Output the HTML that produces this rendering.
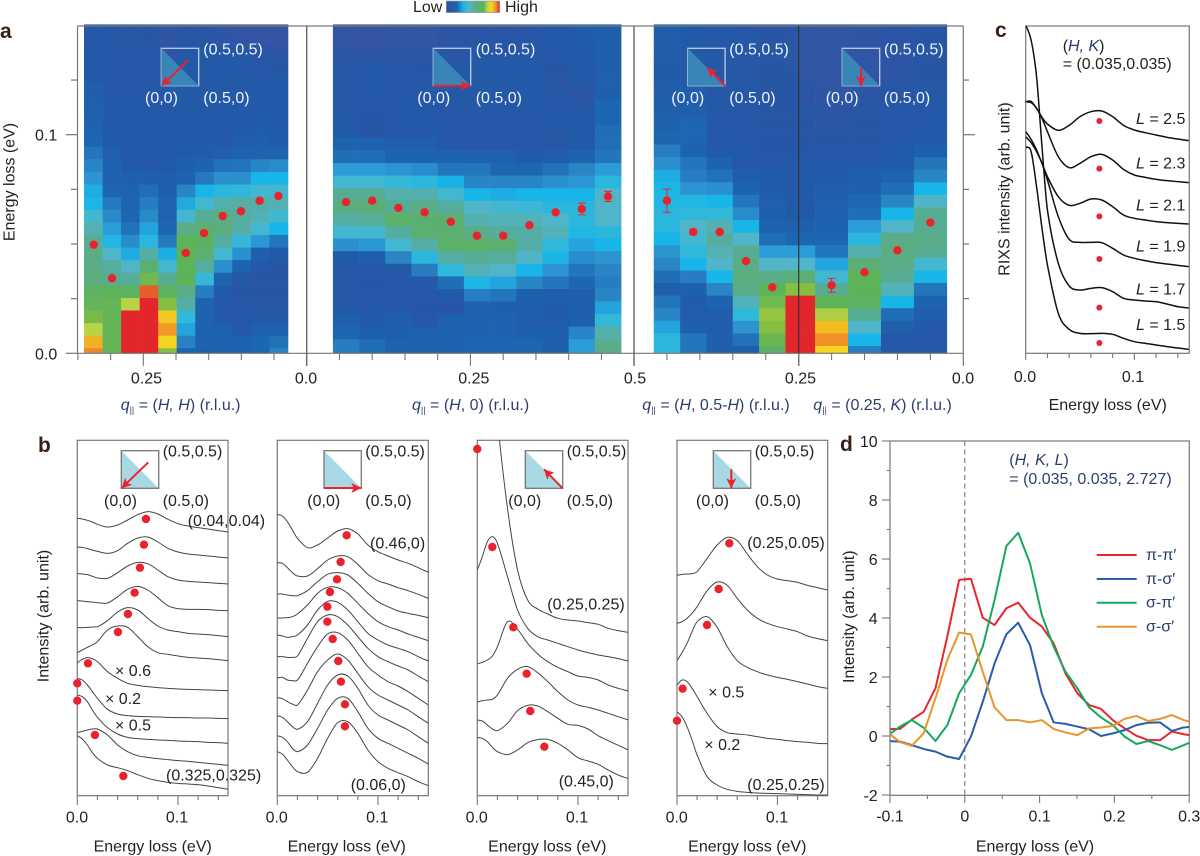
<!DOCTYPE html>
<html lang="en">
<head>
<meta charset="utf-8">
<title>RIXS energy-loss figure</title>
<style>
html,body{margin:0;padding:0;background:#fff;}
svg{display:block;}
text{font-family:"Liberation Sans",sans-serif;font-size:16px;fill:#222;}
.lab{font-weight:bold;font-size:21px;fill:#3a1f16;}
.w{fill:#eef2fa;}
.b{fill:#2b3f6e;}
.ax{stroke:#777;stroke-width:1.2;fill:none;}
</style>
</head>
<body>
<svg xmlns="http://www.w3.org/2000/svg" width="1200" height="856" viewBox="0 0 1200 856">
<defs>
<marker id="ah" markerUnits="userSpaceOnUse" markerWidth="12" markerHeight="12" refX="10" refY="5" orient="auto"><path d="M0,0L10,5L0,10L2.5,5Z" fill="#e8232e"/></marker>
<linearGradient id="cbar" x1="0" x2="1" y1="0" y2="0">
<stop offset="0" stop-color="#2a4f9e"/><stop offset=".2" stop-color="#1d66b1"/><stop offset=".32" stop-color="#17b5e8"/><stop offset=".42" stop-color="#50b5c8"/><stop offset=".55" stop-color="#5bad80"/><stop offset=".7" stop-color="#5cb358"/><stop offset=".78" stop-color="#c5d848"/><stop offset=".85" stop-color="#f3d420"/><stop offset=".92" stop-color="#f09a28"/><stop offset="1" stop-color="#e1262c"/>
</linearGradient>
<clipPath id="clipA"><rect x="77" y="24.3" width="890" height="329"/></clipPath>
<clipPath id="clipB1"><rect x="77.3" y="440.3" width="150.7" height="355.4"/></clipPath>
<clipPath id="clipB2"><rect x="277.3" y="440.3" width="151" height="355.4"/></clipPath>
<clipPath id="clipB3"><rect x="477.3" y="440.3" width="150.7" height="355.4"/></clipPath>
<clipPath id="clipB4"><rect x="677" y="440.3" width="150.7" height="355.4"/></clipPath>
<clipPath id="clipC"><rect x="1025.7" y="26" width="163.6" height="327.3"/></clipPath>
<clipPath id="clipD"><rect x="890" y="441" width="299.3" height="354.3"/></clipPath>
</defs>

<!-- colour bar -->
<g>
<text x="413" y="12">Low</text>
<rect x="446.3" y="1" width="53.4" height="11.6" fill="url(#cbar)" stroke="#999" stroke-width=".7"/>
<text x="505" y="12">High</text>
</g>

<!-- panel labels -->
<text class="lab" x="0" y="38">a</text>
<text class="lab" x="38" y="452">b</text>
<text class="lab" x="995" y="37">c</text>
<text class="lab" x="840" y="451">d</text>

<!-- panel a -->
<g id="heat-layer" clip-path="url(#clipA)"></g>
<g>
<path class="ax" d="M77.5,26H963.3M77.5,26V353.3M77.5,353.3H963.3M963.3,26V353.3"/>
<path d="M306.7,26V366M634,26V366" stroke="#666" stroke-width="1.4" fill="none"/>
<path d="M798.7,26V366" stroke="#333" stroke-width="1.2" fill="none"/>
</g>
<g id="a-ticks"></g>
<text transform="translate(14.5,182) rotate(-90)" text-anchor="middle">Energy loss (eV)</text>

<g>
<rect x="161.3" y="48.3" width="37.4" height="37.4" fill="none" stroke="#c3cde2" stroke-width="1.3"/>
<polygon points="161.3,48.3 161.3,85.7 198.7,85.7" fill="#3a85b8"/>
<line x1="188.3" y1="60" x2="161.7" y2="85.7" stroke="#e8232e" stroke-width="2" marker-end="url(#ah)"/>
<text class="w" x="203.3" y="54.5">(0.5,0.5)</text>
<text class="w" x="145" y="103">(0,0)</text>
<text class="w" x="203.3" y="103">(0.5,0)</text>
</g>
<g>
<rect x="433.3" y="48.3" width="37.4" height="37.4" fill="none" stroke="#c3cde2" stroke-width="1.3"/>
<polygon points="433.3,48.3 433.3,85.7 470.7,85.7" fill="#3a85b8"/>
<line x1="433.3" y1="85.7" x2="470.7" y2="85.7" stroke="#e8232e" stroke-width="2" marker-end="url(#ah)"/>
<text class="w" x="475.7" y="54.5">(0.5,0.5)</text>
<text class="w" x="417.3" y="103">(0,0)</text>
<text class="w" x="475.7" y="103">(0.5,0)</text>
</g>
<g>
<rect x="687.7" y="48.3" width="37.4" height="37.4" fill="none" stroke="#c3cde2" stroke-width="1.3"/>
<polygon points="687.7,48.3 687.7,85.7 725.1,85.7" fill="#3a85b8"/>
<line x1="725.3" y1="86" x2="707.3" y2="67.7" stroke="#e8232e" stroke-width="2" marker-end="url(#ah)"/>
<text class="w" x="729.3" y="54.5">(0.5,0.5)</text>
<text class="w" x="671.3" y="103">(0,0)</text>
<text class="w" x="729.3" y="103">(0.5,0)</text>
</g>
<g>
<rect x="842.3" y="48.3" width="37.4" height="37.4" fill="none" stroke="#c3cde2" stroke-width="1.3"/>
<polygon points="842.3,48.3 842.3,85.7 879.7,85.7" fill="#3a85b8"/>
<line x1="861" y1="67.7" x2="861" y2="86" stroke="#e8232e" stroke-width="2" marker-end="url(#ah)"/>
<text class="w" x="884" y="54.5">(0.5,0.5)</text>
<text class="w" x="825.7" y="103">(0,0)</text>
<text class="w" x="884" y="103">(0.5,0)</text>
</g>
<g id="a-dots"></g>

<text class="b" x="120.7" y="410"><tspan font-style="italic">q</tspan><tspan font-size="9" dy="3">||</tspan><tspan dy="-3"> = (</tspan><tspan font-style="italic">H, H</tspan>) (r.l.u.)</text>
<text class="b" x="412" y="410"><tspan font-style="italic">q</tspan><tspan font-size="9" dy="3">||</tspan><tspan dy="-3"> = (</tspan><tspan font-style="italic">H</tspan>, 0) (r.l.u.)</text>
<text class="b" x="642.3" y="410"><tspan font-style="italic">q</tspan><tspan font-size="9" dy="3">||</tspan><tspan dy="-3"> = (</tspan><tspan font-style="italic">H</tspan>, 0.5-<tspan font-style="italic">H</tspan>) (r.l.u.)</text>
<text class="b" x="813.3" y="410"><tspan font-style="italic">q</tspan><tspan font-size="9" dy="3">||</tspan><tspan dy="-3"> = (0.25, </tspan><tspan font-style="italic">K</tspan>) (r.l.u.)</text>

<!-- panel b -->
<g>
<rect class="ax" x="77.3" y="440.3" width="150.7" height="355.4"/>
<rect class="ax" x="277.3" y="440.3" width="151" height="355.4"/>
<rect class="ax" x="477.3" y="440.3" width="150.7" height="355.4"/>
<rect class="ax" x="677" y="440.3" width="150.7" height="355.4"/>
</g>
<text transform="translate(48.7,616) rotate(-90)" text-anchor="middle">Intensity (arb. unit)</text>
<g id="b-layer"></g>

<g>
<polygon points="121.3,450.7 121.3,488.3 158.7,488.3" fill="#a8d8e4"/>
<rect x="121.3" y="450.7" width="37.4" height="37.6" fill="none" stroke="#777" stroke-width="1.3"/>
<line x1="148.3" y1="462.3" x2="121.5" y2="488.2" stroke="#e8232e" stroke-width="2" marker-end="url(#ah)"/>
<text x="162.7" y="456.7">(0.5,0.5)</text>
<text x="104" y="506">(0,0)</text>
<text x="162.7" y="506">(0.5,0)</text>
</g>
<g>
<polygon points="324,450.7 324,488.3 361.3,488.3" fill="#a8d8e4"/>
<rect x="324" y="450.7" width="37.3" height="37.6" fill="none" stroke="#777" stroke-width="1.3"/>
<line x1="324" y1="488" x2="361.3" y2="488" stroke="#e8232e" stroke-width="2" marker-end="url(#ah)"/>
<text x="365.3" y="456.7">(0.5,0.5)</text>
<text x="307.3" y="506">(0,0)</text>
<text x="365.3" y="506">(0.5,0)</text>
</g>
<g>
<polygon points="525.3,450.7 525.3,488.3 562.7,488.3" fill="#a8d8e4"/>
<rect x="525.3" y="450.7" width="37.4" height="37.6" fill="none" stroke="#777" stroke-width="1.3"/>
<line x1="562.7" y1="488.3" x2="544" y2="469.3" stroke="#e8232e" stroke-width="2" marker-end="url(#ah)"/>
<text x="566.7" y="456.7">(0.5,0.5)</text>
<text x="508.3" y="506">(0,0)</text>
<text x="566.7" y="506">(0.5,0)</text>
</g>
<g>
<polygon points="713.3,450.7 713.3,488.3 750.7,488.3" fill="#a8d8e4"/>
<rect x="713.3" y="450.7" width="37.4" height="37.6" fill="none" stroke="#777" stroke-width="1.3"/>
<line x1="731.3" y1="469.3" x2="731.3" y2="488.3" stroke="#e8232e" stroke-width="2" marker-end="url(#ah)"/>
<text x="754.7" y="456.7">(0.5,0.5)</text>
<text x="696" y="506">(0,0)</text>
<text x="754.7" y="506">(0.5,0)</text>
</g>

<g>
<text x="187.7" y="526">(0.04,0.04)</text>
<text x="115" y="676">× 0.6</text>
<text x="105" y="704">× 0.2</text>
<text x="115" y="730.7">× 0.5</text>
<text x="166" y="780.7">(0.325,0.325)</text>
<text x="370" y="548.7">(0.46,0)</text>
<text x="350.7" y="790">(0.06,0)</text>
<text x="547.3" y="609.3">(0.25,0.25)</text>
<text x="558.7" y="786.7">(0.45,0)</text>
<text x="747.3" y="548">(0.25,0.05)</text>
<text x="708.3" y="697.3">× 0.5</text>
<text x="704.3" y="750">× 0.2</text>
<text x="747.3" y="790">(0.25,0.25)</text>
</g>
<text x="152.7" y="851.7" text-anchor="middle">Energy loss (eV)</text>
<text x="346.7" y="851.7" text-anchor="middle">Energy loss (eV)</text>
<text x="547.3" y="851.7" text-anchor="middle">Energy loss (eV)</text>
<text x="747.3" y="851.7" text-anchor="middle">Energy loss (eV)</text>

<!-- panel c -->
<rect class="ax" x="1025.7" y="26" width="163.6" height="327.3"/>
<g id="c-layer"></g>
<text transform="translate(1009.3,189) rotate(-90)" text-anchor="middle">RIXS intensity (arb. unit)</text>
<text x="1107.7" y="410" text-anchor="middle">Energy loss (eV)</text>
<text x="1062.7" y="51">(<tspan font-style="italic" fill="#2b3f6e">H, K</tspan>)</text>
<text x="1062.7" y="69">= (0.035,0.035)</text>
<g>
<text x="1136" y="124"><tspan font-style="italic">L</tspan> = 2.5</text>
<text x="1136" y="168.3"><tspan font-style="italic">L</tspan> = 2.3</text>
<text x="1136" y="210.7"><tspan font-style="italic">L</tspan> = 2.1</text>
<text x="1136" y="251.7"><tspan font-style="italic">L</tspan> = 1.9</text>
<text x="1136" y="294.3"><tspan font-style="italic">L</tspan> = 1.7</text>
<text x="1136" y="330"><tspan font-style="italic">L</tspan> = 1.5</text>
</g>

<!-- panel d -->
<rect class="ax" x="890" y="441" width="299.3" height="354.3"/>
<g id="d-layer"></g>
<text transform="translate(854,616.7) rotate(-90)" text-anchor="middle">Intensity (arb. unit)</text>
<text x="1035" y="851.7" text-anchor="middle">Energy loss (eV)</text>
<text class="b" x="1009.3" y="465">(<tspan font-style="italic">H, K, L</tspan>)</text>
<text class="b" x="1009.3" y="484">= (0.035, 0.035, 2.727)</text>
<g>
<line x1="1096.7" x2="1136.7" y1="555" y2="555" stroke="#e8262e" stroke-width="2"/>
<text class="b" x="1146" y="560">π-π′</text>
<line x1="1096.7" x2="1136.7" y1="579" y2="579" stroke="#2d5ca8" stroke-width="2"/>
<text class="b" x="1146" y="584">π-σ′</text>
<line x1="1096.7" x2="1136.7" y1="602.7" y2="602.7" stroke="#14a860" stroke-width="2"/>
<text class="b" x="1146" y="607.7">σ-π′</text>
<line x1="1096.7" x2="1136.7" y1="626.7" y2="626.7" stroke="#e8952b" stroke-width="2"/>
<text class="b" x="1146" y="631.7">σ-σ′</text>
</g>
</svg>

<script>
/* ---------- panel a data ---------- */
const hhCols=[.3265,.2981,.2698,.2414,.213,.1847,.1563,.1279,.0996,.0712,.0428];
const h0Cols=[.06,.10,.14,.18,.22,.26,.30,.34,.38,.42,.46];
const h05Cols=[.45,.41,.37,.33,.29,.25];
const kCols=[.25,.20,.15,.10,.05];
/* colour level 0-100, each column listed from lowest energy upward */
const heatHH=[
[92,88,79,72,69,67,63,62,62,60,55,50,43,40,34,30,26,22,20,19,17,17,14,10,12,10,10],
[69,69,69,69,69,68,60,58,52,44,36,31,27,22,20,20,17,14,14,12,12,12,10,10,10,10,8],
[100,100,100,100,79,67,59,52,40,32,25,22,21,20,18,14,12,12,12,12,12,11,11,10,10,10,8],
[100,100,100,100,100,96,71,65,57,46,38,31,28,24,18,12,12,12,12,12,11,11,11,10,10,8,8],
[74,85,90,86,74,67,60,50,40,27,22,20,21,18,16,14,14,13,12,12,11,11,10,10,6,5,5],
[20,29,38,47,57,62,68,68,68,68,62,50,39,30,20,18,14,14,14,14,13,13,12,12,10,8,6],
[18,20,20,20,20,28,48,58,65,67,65,60,50,42,27,20,15,12,13,13,13,13,13,13,12,8,6],
[20,20,20,12,12,14,20,33,50,58,63,62,56,46,33,25,17,13,12,12,12,12,12,12,11,6,4],
[20,20,10,10,10,9,12,20,33,48,57,58,57,47,33,26,20,16,14,13,12,12,12,12,10,5,3],
[22,22,18,10,8,8,8,12,18,35,50,55,57,50,42,30,20,18,15,14,12,12,12,10,8,4,2],
[30,25,18,10,8,8,8,8,14,26,42,50,55,50,42,32,20,15,14,13,12,12,12,8,6,3,2]];
const heatH0=[
[28,22,18,14,10,10,10,14,33,50,57,63,60,50,36,24,20,14,12,12,10,10,10,6,4,3],
[24,18,14,12,9,9,10,16,35,50,59,64,60,50,36,24,20,8,9,10,12,12,12,6,4,3],
[20,18,16,12,10,10,14,30,50,58,66,60,56,48,34,20,17,12,12,12,12,10,10,6,4,4],
[20,19,10,9,10,10,28,46,57,65,65,62,56,46,32,20,17,12,12,12,11,10,9,6,4,4],
[20,20,18,8,14,24,47,57,66,65,65,58,50,41,26,20,10,10,10,10,10,10,10,7,6,6],
[21,20,20,19,28,43,55,60,66,62,56,52,42,30,26,19,10,10,10,10,11,12,12,10,8,6],
[21,20,20,18,26,38,52,59,65,58,54,50,40,30,22,19,10,10,10,10,11,12,13,10,8,6],
[22,18,15,18,18,30,42,52,57,57,54,49,42,30,22,14,10,10,10,12,13,13,13,11,10,8],
[18,18,15,15,16,26,34,43,47,54,52,46,42,33,25,16,8,10,14,12,10,8,8,12,13,12],
[36,30,18,18,18,22,26,32,38,44,46,46,42,35,30,20,14,14,12,10,6,10,13,14,14,15],
[62,56,48,38,30,28,30,34,42,46,52,52,52,46,36,26,24,24,22,22,18,17,17,18,17,16]];
const heatH05=[
[46,46,38,30,26,18,24,30,34,42,46,46,44,43,40,33,28,22,20,18,17,16,15,15,16,16,17],
[26,26,18,16,15,18,28,42,47,50,52,47,44,34,28,26,20,22,22,18,16,16,15,15,14,14,14],
[17,17,16,16,20,30,42,52,55,58,55,48,42,33,25,20,14,12,12,12,12,12,12,12,10,10,10],
[18,25,34,47,54,62,63,62,60,52,42,32,26,20,16,12,12,10,10,10,10,10,10,10,10,10,8],
[66,70,74,76,71,68,62,52,36,24,20,18,17,15,14,10,9,9,9,8,8,8,8,8,8,8,7],
[100,100,100,100,100,74,64,52,36,22,18,14,12,10,10,10,9,9,8,8,8,8,8,7,7,7,6]];
const heatK=[
[100,100,100,100,100,74,64,52,36,22,18,14,12,14,14,13,9,8,8,8,6,6,4,4,4,4,4],
[85,91,87,78,68,60,50,38,26,22,20,20,18,16,14,13,10,8,6,6,5,5,4,4,4,4,4],
[28,42,52,60,67,68,68,64,56,46,36,24,22,18,16,13,10,8,8,7,7,5,5,5,5,5,4],
[12,10,18,24,42,54,60,62,63,62,52,42,30,24,20,15,14,12,10,10,8,8,6,6,6,6,6],
[10,10,10,17,20,26,42,50,60,62,60,60,52,42,30,26,18,14,12,11,11,10,8,8,8,8,8]];
const dotHHq=[.3259,.2979,.185,.157,.1285,.1006,.072,.0434];
const dotHHe=[.0497,.0343,.0459,.055,.0628,.065,.0698,.072];
const dotH0q=[.06,.10,.14,.18,.22,.26,.30,.34,.38,.42,.46];
const dotH0e=[.0692,.0698,.0665,.0645,.0602,.0538,.0538,.0586,.0645,.066,.0718];
const dotH0err=[0,0,0,0,0,0,0,0,0,.0027,.0023];
const dotH05q=[.45,.41,.37,.33,.29];
const dotH05e=[.0698,.0555,.0555,.0422,.0302];
const dotH05err=[.0053,.001,0,0,0];
const dotKq=[.20,.15,.10,.05];
const dotKe=[.0311,.0371,.0471,.0598];
const dotKerr=[.0032,0,0,0];
const energyTicksA=[0,.025,.05,.075,.1,.125];
const energyTickLabelsA=["0.0","","","","0.1",""];
const hhTicks=[.35,.30,.25,.20,.15,.10,.05];
const h0Ticks=[.05,.10,.15,.20,.25,.30,.35,.40,.45];
const h05Ticks=[.45,.40,.35,.30,.25];
const kTicks=[.20,.15,.10,.05];

/* ---------- panel b / c data: vertical stacking position of each spectrum ---------- */
const gridE=[0,.005,.01,.015,.02,.03,.04,.05,.06,.07,.08,.09,.10,.11,.12,.13,.14,.15];
const b1Curves=[
[265,267,271,276,283,291,285,270,254,245,252,268,281,288,293,297,302,306],
[351,352,356,360,364,370,362,340,324,321,336,355,366,372,375,378,381,384],
[431,432,434,439,444,445,428,408,397,401,420,440,450,454,456,458,460,462],
[512,513,515,516,518,519,500,478,469,480,503,527,536,538,538,539,541,542],
[593,593,592,591,590,572,546,533,540,565,588,600,605,610,612,614,617,620],
[668,660,652,645,635,600,588,592,620,650,668,673,678,682,684,686,689,692],
[698,688,683,686,695,725,745,760,766,770,773,775,777,778,779,780,781,782],
[745,750,765,785,805,838,852,857,859,860,861,862,863,863,864,864,865,866],
[795,800,815,840,862,893,912,922,926,928,930,931,933,934,935,937,938,940],
[908,904,900,897,897,915,945,965,977,982,986,989,992,994,997,1000,1003,1006],
[917,927,945,968,985,1005,1013,1022,1034,1045,1052,1057,1060,1062,1064,1068,1073,1078]];
const b1DotE=[.0682,.0662,.0622,.0569,.0503,.0404,.0106,0,0,.0175,.0457];
const b1DotY=[267,344,413,488,552,606,700,760,812,915,1038];
const b2Curves=[
[253,258,275,300,325,353,345,324,303,296,312,345,365,378,390,400,413,427],
[398,400,413,428,438,438,416,390,378,380,403,433,452,462,473,482,493,505],
[492,492,495,497,497,482,455,433,428,435,460,490,515,530,543,550,556,563],
[564,564,563,560,552,525,490,472,473,490,520,550,575,590,600,612,622,632],
[615,618,622,620,615,585,540,514,517,540,575,610,630,645,655,665,680,693],
[680,680,682,682,678,625,575,555,560,585,620,655,680,695,708,720,738,755],
[744,742,750,752,750,700,650,612,608,630,670,710,735,755,768,785,805,825],
[803,806,815,822,825,780,725,690,672,690,730,770,795,810,825,840,860,880],
[857,862,875,890,898,875,820,765,735,738,775,825,855,870,885,900,920,940],
[917,922,935,955,965,945,895,840,805,805,845,895,925,940,955,970,985,1002],
[965,972,990,1010,1025,1027,985,925,878,875,910,960,995,1015,1028,1040,1055,1067]];
const b2DotE=[.0689,.0629,.0593,.0523,.0497,.0497,.055,.0606,.0632,.0672,.0672];
const b2DotY=[316,396,448,486,530,575,627,693,755,823,889];
const b3Curves=[
[-700,-550,-400,-220,-30,235,420,510,537,552,565,570,573,578,583,595,602,607],
[420,380,335,320,340,440,540,595,620,630,640,650,660,668,675,680,686,693],
[702,697,690,678,650,575,598,640,672,695,712,725,738,742,750,765,775,783],
[816,812,810,808,795,745,718,710,728,755,785,810,825,832,840,850,860,870],
[870,873,885,897,902,880,842,826,828,845,865,883,886,897,917,932,946,960],
[922,925,935,952,965,974,960,938,929,928,940,960,983,993,1003,1020,1035,1046]];
const b3DotE=[0,.0149,.0358,.049,.0526,.0666];
const b3DotY=[57,351,592,731,843,950];
const b4Curves=[
[436,433,432,431,425,385,345,322,332,372,410,435,447,452,457,466,473,480],
[580,575,565,550,530,482,456,466,505,540,565,580,590,597,605,618,626,632],
[692,668,640,605,575,560,592,650,692,712,725,735,742,748,755,762,770,775],
[765,750,755,775,800,850,890,908,912,915,920,925,928,932,935,937,940,941],
[845,860,890,930,975,1040,1065,1078,1084,1087,1089,1090,1091,1092,1093,1094,1095,1095]];
const b4DotE=[.0521,.0415,.0299,.0056,0];
const b4DotY=[340,477,585,776,872];
const cCurves=[
[305,304,325,352,372,391,376,350,335,333,350,376,390,398,405,412,417,422],
[305,308,325,355,395,470,503,490,470,463,480,508,525,532,538,542,545,548],
[395,418,450,490,530,590,616,610,597,600,620,645,655,660,665,668,670,672],
[410,428,455,490,540,650,718,727,727,728,745,765,775,782,788,792,796,800],
[75,120,230,440,630,790,858,870,865,863,875,895,900,903,905,912,920,924],
[440,455,560,685,795,940,988,1000,1001,1000,1003,1015,1025,1030,1035,1040,1044,1048]];
const cDotE=[.0678,.0678,.0678,.0678,.0678,.0678];
const cDotY=[363,506,649,777,923,1029];
const energyTicksB=[0,.02,.04,.06,.08,.1,.12,.14];

/* ---------- panel d data ---------- */
const dEnergy=[-.1024,-.0866,-.0708,-.055,-.0392,-.0234,-.0076,.0082,.024,.0398,.0556,.0714,.0872,.103,.1188,.1346,.1504,.1662,.182,.1978,.2136,.2294,.2452,.261,.2768,.2926,.3084];
const piPi=[.23,.24,.56,.82,1.62,3.37,5.29,5.33,4.01,3.76,4.33,4.52,4.01,3.71,3.14,2.12,1.45,1.05,.92,.54,.26,.01,-.14,-.14,.15,.06,0];
const piSigma=[-.17,-.19,-.31,-.44,-.53,-.7,-.78,-.02,1.16,2.46,3.45,3.84,3.08,1.45,.46,.41,.32,.23,0,.09,.2,.37,.45,.46,.17,.29,.32];
const sigmaPi=[.03,.32,.54,.28,-.17,.37,1.45,2.07,3.03,4.61,6.44,6.89,5.85,4.1,3.03,2.18,1.62,.97,.63,.37,-.02,-.27,-.17,-.31,-.47,-.31,-.14];
const sigmaSigma=[.11,-.21,-.33,.09,1.28,2.58,3.51,3.44,2.18,.97,.54,.54,.46,.54,.24,.12,.03,.26,.29,.34,.58,.68,.51,.58,.71,.54,.43];
const dYTicks=[-2,-1,0,1,2,3,4,5,6,7,8,9,10];
const dXTicks=[-.1,-.05,0,.05,.1,.15,.2,.25,.3];

/* ---------- helpers ---------- */
const NS="http://www.w3.org/2000/svg";
function mk(tag,attrs,name,parent){
  const el=document.createElementNS(NS,tag);
  for(const k in attrs) el.setAttribute(k,attrs[k]);
  
  
  parent.appendChild(el);
  return el;
}
function label(str,x,y,anchor,name,parent){
  const t=mk('text',{x:x,y:y,'text-anchor':anchor},name,parent);
  t.textContent=str;
  return t;
}
const stops=[[0,[58,85,163]],[8,[39,86,165]],[15,[32,92,169]],[22,[29,102,177]],[30,[42,133,196]],[36,[43,156,216]],[42,[23,181,232]],[48,[53,184,216]],[52,[80,181,200]],[58,[85,173,159]],[63,[91,173,128]],[68,[92,179,88]],[75,[140,192,64]],[80,[197,216,72]],[85,[243,212,32]],[90,[240,154,40]],[95,[234,106,42]],[100,[225,38,44]]];
function color(v){
  for(let i=1;i<stops.length;i++){
    if(v<=stops[i][0]){
      const a=stops[i-1],b=stops[i],f=(v-a[0])/(b[0]-a[0]);
      return 'rgb('+a[1].map((c,j)=>Math.round(c+(b[1][j]-c)*f)).join(',')+')';
    }
  }
  return 'rgb(225,38,44)';
}
/* panel a axes */
const yA=e=>353.3-e*2186;
const xHH=h=>306.7-h*653.6;
const xH0=h=>306.7+h*655;
const xH05=h=>634+(.5-h)*658.6;
const xK=k=>963.3-k*658.6;
const rowStep=.00576;

const heatLayer=document.getElementById('heat-layer');
function drawHeat(cols,values,xf,e0,lim){
  const half=Math.abs(cols[1]-cols[0])/2;
  cols.forEach((q,i)=>{
    let q1=q-half,q2=q+half;
    if(lim) { q1=Math.max(q1,lim[0]); q2=Math.min(q2,lim[1]); }
    const xa=xf(q1),xb=xf(q2),xl=Math.min(xa,xb),w=Math.abs(xb-xa);
    values[i].forEach((v,k)=>{
      const eb=k===0?0:e0+(k-1)*rowStep;
      const et=Math.min(e0+k*rowStep,.1505);
      mk('rect',{x:xl.toFixed(2),y:yA(et).toFixed(2),width:(w+.3).toFixed(2),height:(yA(eb)-yA(et)+.3).toFixed(2),fill:color(v)},'heatmap-cell',heatLayer);
    });
  });
}
drawHeat(hhCols,heatHH,xHH,.00243);
drawHeat(h0Cols,heatH0,xH0,.00654);
drawHeat(h05Cols,heatH05,xH05,.00348,[.25,1]);
drawHeat(kCols,heatK,xK,.00348,[0,.25]);

/* panel a ticks */
const aT=document.getElementById('a-ticks');
energyTicksA.forEach((e,i)=>{
  const maj=energyTickLabelsA[i]!=="";
  mk('line',{x1:maj?65.7:71,x2:77.5,y1:yA(e),y2:yA(e),stroke:'#777','stroke-width':1.2},'y-tick-left',aT);
  if(e>0) mk('line',{x1:963.3,x2:maj?975:969,y1:yA(e),y2:yA(e),stroke:'#777','stroke-width':1.2},'y-tick-right',aT);
  if(maj) label(energyTickLabelsA[i],57.3,yA(e)+6,'end','y-tick-label',aT);
});
function xTicks(arr,f){
  arr.forEach(q=>{
    const maj=Math.abs(q-.25)<1e-6;
    mk('line',{x1:f(q),x2:f(q),y1:353.3,y2:maj?366:360,stroke:'#777','stroke-width':1.1},'x-tick',aT);
  });
}
xTicks(hhTicks,xHH);xTicks(h0Ticks,xH0);xTicks(h05Ticks,xH05);xTicks(kTicks,xK);
mk('line',{x1:963.3,x2:963.3,y1:353.3,y2:366,stroke:'#777','stroke-width':1.2},'x-tick',aT);
label("0.25",146.5,383.3,'middle','x-tick-label',aT);
label("0.0",306,383.3,'middle','x-tick-label',aT);
label("0.25",473.8,383.3,'middle','x-tick-label',aT);
label("0.5",635,383.3,'middle','x-tick-label',aT);
label("0.25",800.5,383.3,'middle','x-tick-label',aT);
label("0.0",963,383.3,'middle','x-tick-label',aT);

/* panel a dots */
const aD=document.getElementById('a-dots');
function drawDots(qs,es,errs,f){
  qs.forEach((q,i)=>{
    const x=f(q),y=yA(es[i]),er=errs?errs[i]:0;
    if(er>0){
      const y1=yA(es[i]+er),y2=yA(es[i]-er);
      mk('path',{d:`M${x-4},${y1}H${x+4}M${x},${y1}V${y2}M${x-4},${y2}H${x+4}`,stroke:'#e8232e','stroke-width':1,fill:'none'},'error-bar',aD);
    }
    mk('circle',{cx:x,cy:y,r:4.2,fill:'#e8232e'},'dispersion-point',aD);
  });
}
drawDots(dotHHq,dotHHe,null,xHH);
drawDots(dotH0q,dotH0e,dotH0err,xH0);
drawDots(dotH05q,dotH05e,dotH05err,xH05);
drawDots(dotKq,dotKe,dotKerr,xK);

/* smooth path through samples */
function smooth(xs,ys){
  const n=xs.length,m=[];
  for(let i=0;i<n;i++){
    if(i===0) m[i]=(ys[1]-ys[0])/(xs[1]-xs[0]);
    else if(i===n-1) m[i]=(ys[n-1]-ys[n-2])/(xs[n-1]-xs[n-2]);
    else m[i]=(ys[i+1]-ys[i-1])/(xs[i+1]-xs[i-1]);
  }
  let d=`M${xs[0].toFixed(2)},${ys[0].toFixed(2)}`;
  for(let i=0;i<n-1;i++){
    const h=(xs[i+1]-xs[i])/3;
    d+=`C${(xs[i]+h).toFixed(2)},${(ys[i]+m[i]*h).toFixed(2)} ${(xs[i+1]-h).toFixed(2)},${(ys[i+1]-m[i+1]*h).toFixed(2)} ${xs[i+1].toFixed(2)},${ys[i+1].toFixed(2)}`;
  }
  return d;
}

/* panel b */
const bLayer=document.getElementById('b-layer');
function drawB(curves,dotE,dotY,x0,scale,clip,lab0,lab1){
  const xf=e=>x0+e*scale;
  const yf=v=>430+v/3;
  const g=mk('g',{'clip-path':`url(#${clip})`},'spectra-group',bLayer);
  curves.forEach(c=>{
    mk('path',{d:smooth(gridE.map(xf),c.map(yf)),fill:'none',stroke:'#444','stroke-width':1},'spectrum-curve',g);
  });
  energyTicksB.forEach(e=>{
    const maj=Math.abs(e)<1e-6||Math.abs(e-.1)<1e-6;
    mk('line',{x1:xf(e),x2:xf(e),y1:795.7,y2:maj?805:800,stroke:'#777','stroke-width':1.1},'x-tick',bLayer);
  });
  label("0.0",lab0,822.7,'middle','x-tick-label',bLayer);
  label("0.1",lab1,822.7,'middle','x-tick-label',bLayer);
  dotE.forEach((e,i)=>{
    mk('circle',{cx:xf(e),cy:yf(dotY[i]),r:4.2,fill:'#e8232e'},'peak-point',bLayer);
  });
}
drawB(b1Curves,b1DotE,b1DotY,77.3,1007,'clipB1',77,177);
drawB(b2Curves,b2DotE,b2DotY,277.3,1006.7,'clipB2',276.7,377.3);
drawB(b3Curves,b3DotE,b3DotY,477.3,1006.7,'clipB3',476.7,577);
drawB(b4Curves,b4DotE,b4DotY,677,1004.3,'clipB4',676.7,777);

/* panel c */
const cLayer=document.getElementById('c-layer');
const xC=e=>1025.7+e*1086.7;
const yC=v=>v/3;
const cg=mk('g',{'clip-path':'url(#clipC)'},'spectra-group',cLayer);
cCurves.forEach(c=>{
  mk('path',{d:smooth(gridE.map(xC),c.map(yC)),fill:'none',stroke:'#111','stroke-width':1.5},'rixs-curve',cg);
});
energyTicksB.forEach(e=>{
  const maj=Math.abs(e)<1e-6||Math.abs(e-.1)<1e-6;
  mk('line',{x1:xC(e),x2:xC(e),y1:353.3,y2:maj?360:358,stroke:'#777','stroke-width':1.1},'x-tick',cLayer);
});
label("0.0",1025,382,'middle','x-tick-label',cLayer);
label("0.1",1133,382,'middle','x-tick-label',cLayer);
cDotE.forEach((e,i)=>{
  mk('circle',{cx:xC(e),cy:yC(cDotY[i]),r:3,fill:'#e8232e'},'peak-point',cLayer);
});

/* panel d */
const dLayer=document.getElementById('d-layer');
const xD=e=>964.8+e*748;
const yD=v=>736+(0-v)*29.5;
dYTicks.forEach(v=>{
  const maj=v%2===0;
  mk('line',{x1:maj?882:886.7,x2:890,y1:yD(v),y2:yD(v),stroke:'#777','stroke-width':1.1},'y-tick',dLayer);
  if(maj) label(String(v),877.7,yD(v)+6,'end','y-tick-label',dLayer);
});
dXTicks.forEach(e=>{
  const maj=Math.round(e*100)%10===0;
  mk('line',{x1:xD(e),x2:xD(e),y1:795.3,y2:maj?803:799,stroke:'#777','stroke-width':1.1},'x-tick',dLayer);
  if(maj) label(e===0?"0":String(e),xD(e),821.7,'middle','x-tick-label',dLayer);
});
mk('line',{x1:xD(0),x2:xD(0),y1:441,y2:795.3,stroke:'#777','stroke-width':1.1,'stroke-dasharray':'5 3.5'},'zero-energy-line',dLayer);
const dClip=mk('g',{'clip-path':'url(#clipD)'},'series-group',dLayer);
function drawD(vals,col,name){
  const pts=vals.map((v,i)=>xD(dEnergy[i]).toFixed(2)+','+yD(v).toFixed(2)).join(' ');
  mk('polyline',{points:pts,fill:'none',stroke:col,'stroke-width':2,'stroke-linejoin':'round'},name,dClip);
}
drawD(piPi,'#e8262e','series-pi-pi');
drawD(piSigma,'#2d5ca8','series-pi-sigma');
drawD(sigmaPi,'#14a860','series-sigma-pi');
drawD(sigmaSigma,'#e8952b','series-sigma-sigma');
</script>
</body>
</html>
